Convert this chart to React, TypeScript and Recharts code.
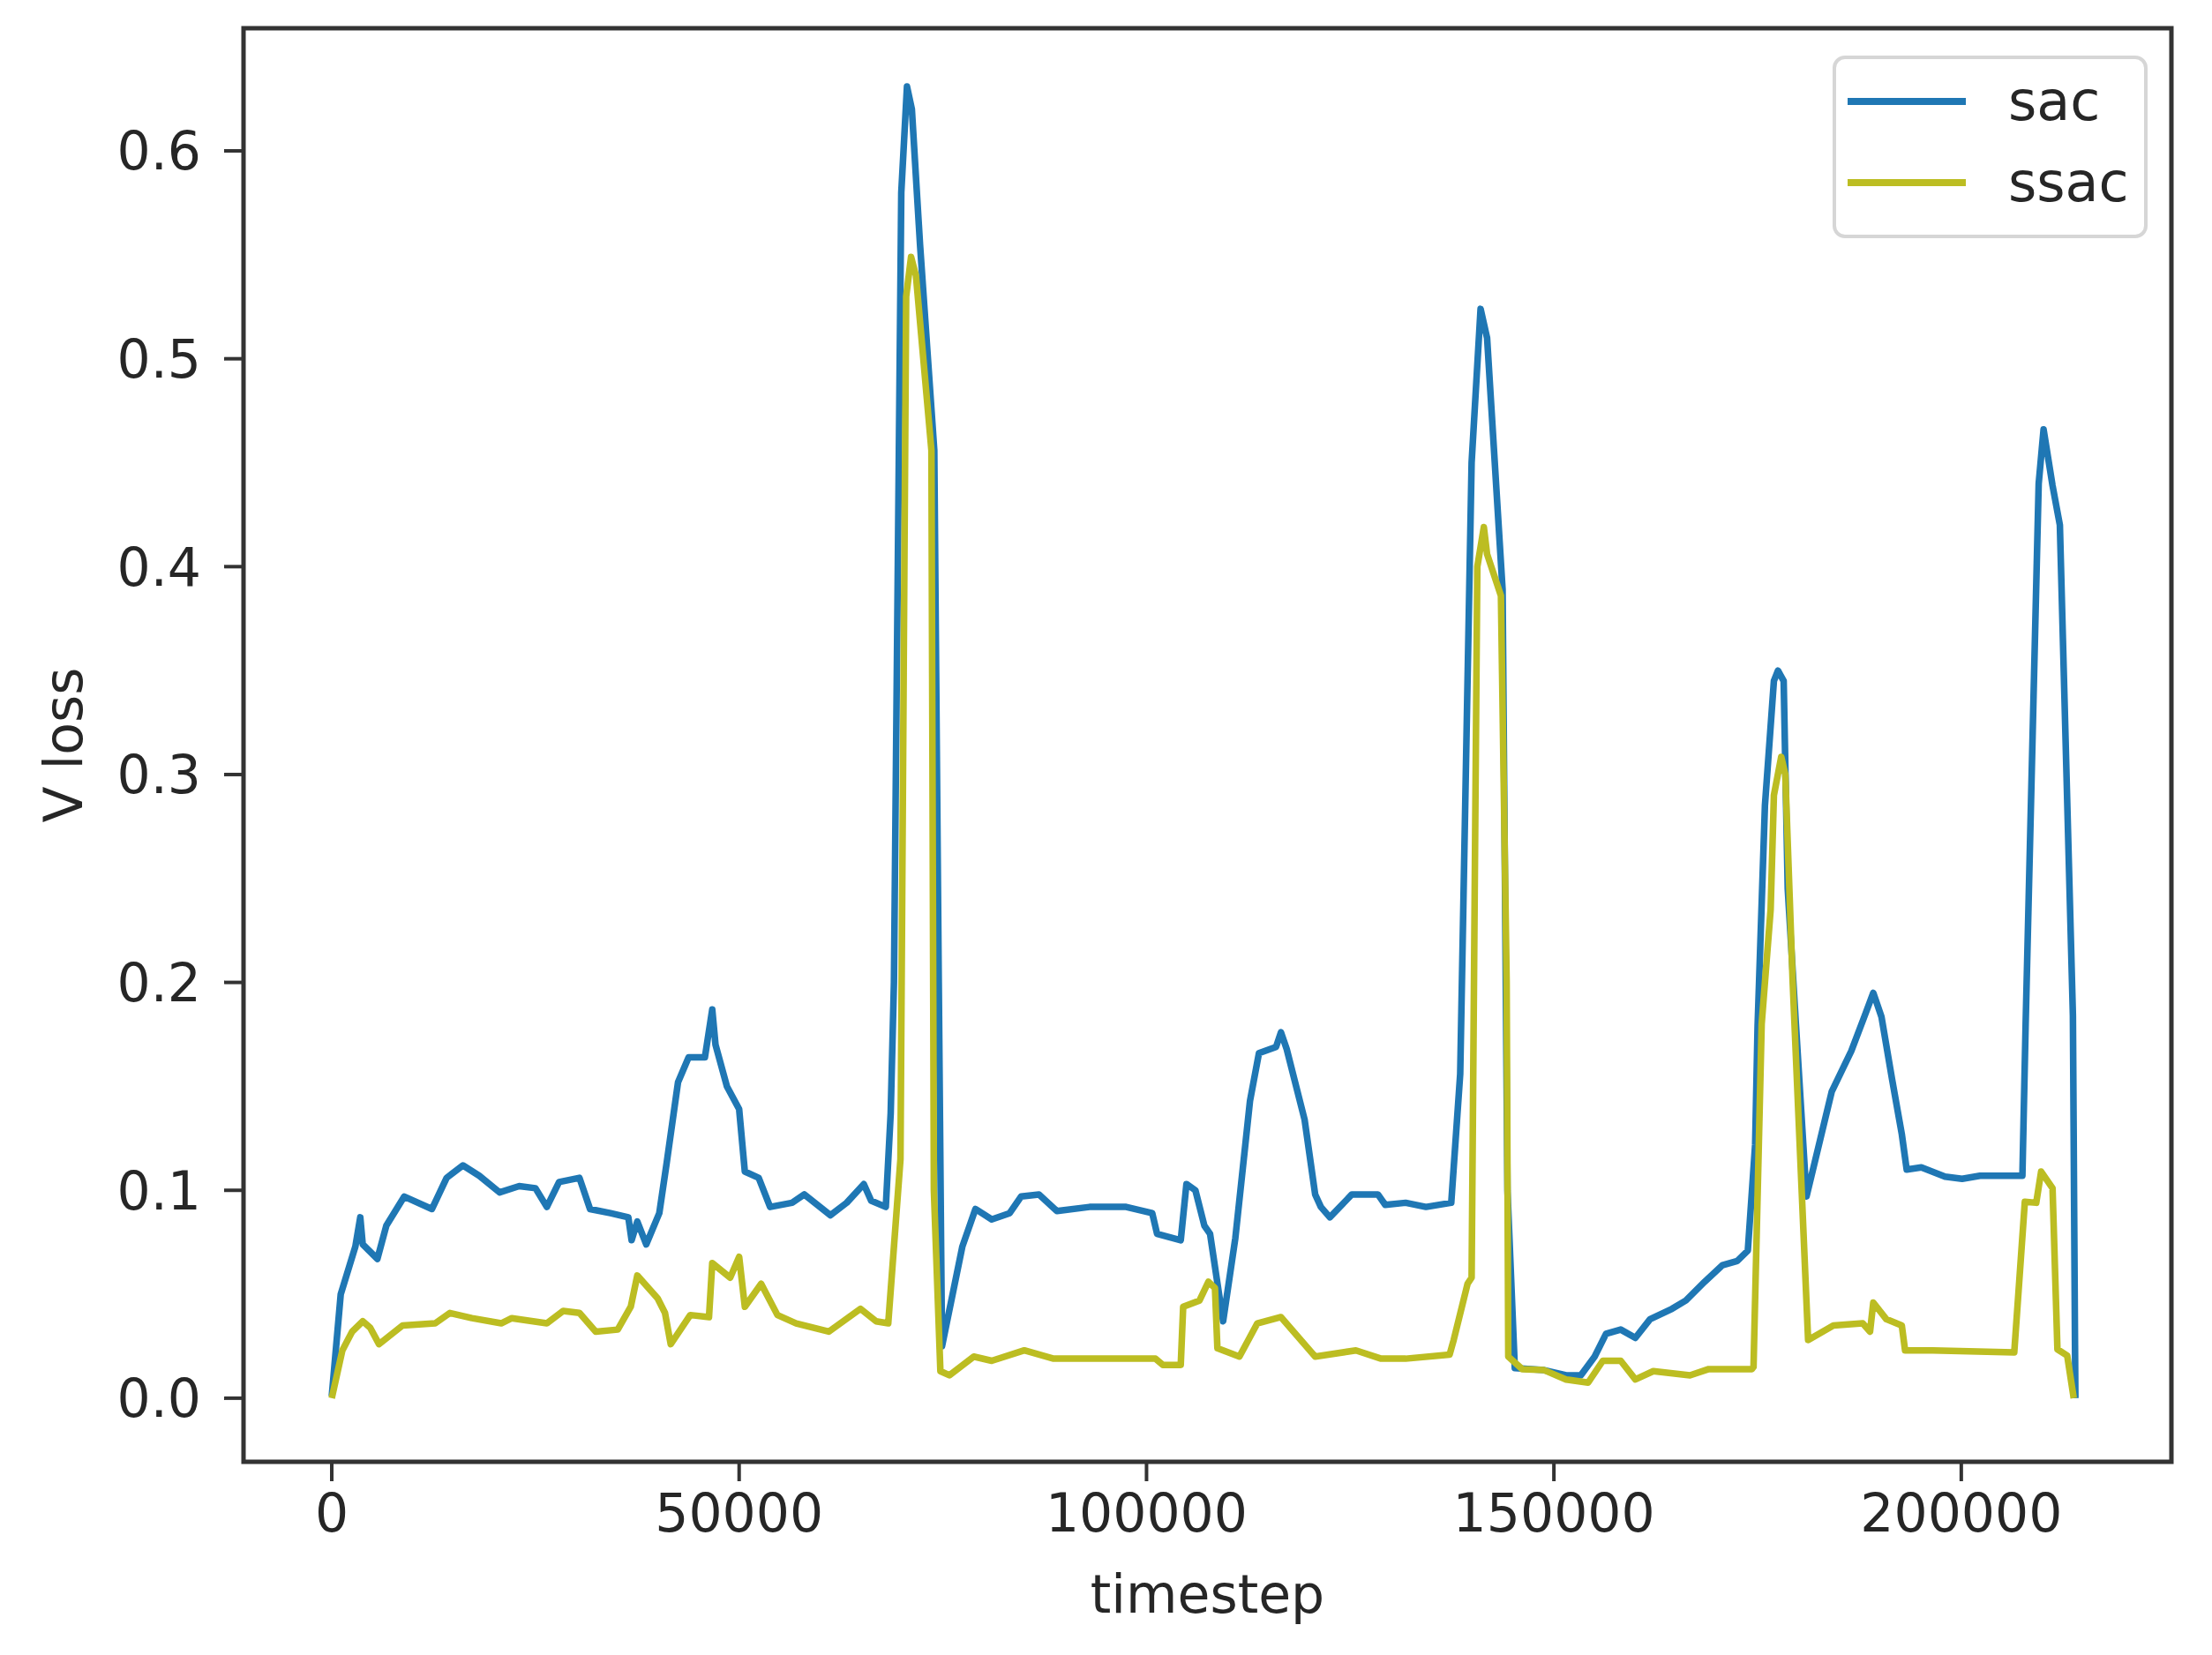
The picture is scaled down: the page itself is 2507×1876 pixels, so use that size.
import React from 'react';
import { LineChart, Line, XAxis, YAxis, ReferenceArea } from 'recharts';

// timesteps / V loss
const sacSteps = [
  0, 1100, 2900, 3500, 3800, 5600, 6700, 8900, 12300, 14100, 16100, 18100, 20600, 23000, 25000, 26400,
  27900, 30400, 31700, 34200, 36400, 36800, 37500, 38600, 40200, 41100, 42500, 43800, 45800, 46700, 47100,
  48500, 50000, 50700, 52400, 53800, 56500, 58000, 59600, 61200, 63200, 65300, 66200, 68000, 68600, 69000,
  69900, 70600, 71200, 72200, 73950, 74500, 74900, 77400, 79000, 81000, 83200, 84600, 86800, 89000, 93000,
  97500, 100700, 101300, 104200, 104900, 106000, 107100, 107800, 109400, 110900, 112700, 113800, 115900,
  116500, 117200, 119400, 120700, 121400, 122500, 125200, 128400, 129300, 131800, 134300, 137400, 138500,
  139900, 141000, 141800, 143700, 144300, 145200, 148800, 151500, 153300, 155000, 156400, 158200, 160000,
  161800, 164500, 166200, 168500, 170700, 172500, 173800, 174700, 175000, 175900, 177000, 177500, 178200,
  178700, 179700, 181000, 184100, 186500, 188100, 189200, 190200, 191500, 192700, 193300, 195100, 198000,
  200100, 202300, 207500, 207900, 209500, 210100, 211200, 212100, 213700, 214000,
];
const sacLoss = [
  0.001, 0.05, 0.073, 0.087, 0.074, 0.067, 0.083, 0.097, 0.091, 0.106, 0.112, 0.107, 0.099, 0.102, 0.101, 0.092,
  0.104, 0.106, 0.091, 0.089, 0.087, 0.076, 0.085, 0.074, 0.089, 0.113, 0.152, 0.164, 0.164, 0.187, 0.17,
  0.15, 0.139, 0.109, 0.106, 0.092, 0.094, 0.098, 0.093, 0.088, 0.094, 0.103, 0.095, 0.092, 0.137, 0.2,
  0.58, 0.631, 0.62, 0.555, 0.456, 0.2, 0.025, 0.073, 0.091, 0.086, 0.089, 0.097, 0.098, 0.09, 0.092,
  0.092, 0.089, 0.079, 0.076, 0.103, 0.1, 0.083, 0.079, 0.037, 0.077, 0.143, 0.166, 0.169,
  0.176, 0.168, 0.134, 0.098, 0.092, 0.087, 0.098, 0.098, 0.093, 0.094, 0.092, 0.094, 0.156,
  0.45, 0.524, 0.51, 0.389, 0.1, 0.0145, 0.0135, 0.011, 0.011, 0.02, 0.031, 0.033, 0.029,
  0.038, 0.043, 0.047, 0.056, 0.064, 0.066, 0.071, 0.122, 0.179, 0.285, 0.345, 0.35, 0.345,
  0.245, 0.18, 0.097, 0.1475, 0.167, 0.1835, 0.195, 0.1835, 0.1535, 0.127, 0.11, 0.111, 0.1066,
  0.1055, 0.107, 0.107, 0.18, 0.44, 0.466, 0.439, 0.42, 0.184, 0.0,
];

const ssacSteps = [
  0, 1300, 2500, 3800, 4700, 5800, 8700, 12700, 14500, 17200, 20800, 22100, 26400, 28400, 30400, 32400,
  35100, 36700, 37500, 40000, 40900, 41600, 44000, 46300, 46700, 48900, 50000, 50700, 52700, 54700, 57000,
  61000, 64900, 66800, 68300, 69800, 70500, 71100, 71700, 73600, 73900, 74700, 75800, 78800, 81000, 85000,
  88600, 101100, 102000, 104200, 104500, 106500, 107600, 108400, 108700, 111400, 113600, 116500, 120700,
  125700, 128800, 131800, 137200, 137700, 139400, 139900, 140600, 141400, 141800, 143500, 144200, 144400,
  146100, 148800, 151500, 154200, 156000, 158200, 160000, 162200, 166700, 169000, 174300, 174500, 175500,
  176600, 177000, 177900, 178400, 179300, 181200, 184300, 187900, 188800, 189200, 190800, 192700, 193100,
  196500, 206500, 207800, 209200, 209800, 211200, 211800, 213000, 213800,
];
const ssacLoss = [
  0.0, 0.023, 0.032, 0.037, 0.034, 0.026, 0.035, 0.036, 0.041, 0.0385, 0.036, 0.0385, 0.036, 0.042, 0.041, 0.032,
  0.033, 0.044, 0.059, 0.048, 0.041, 0.026, 0.04, 0.039, 0.065, 0.058, 0.068, 0.044, 0.055, 0.04, 0.036,
  0.032, 0.043, 0.037, 0.036, 0.115, 0.53, 0.549, 0.54, 0.456, 0.1, 0.013, 0.011, 0.02, 0.018, 0.023,
  0.019, 0.019, 0.016, 0.016, 0.044, 0.047, 0.056, 0.053, 0.024, 0.02, 0.036, 0.039, 0.02,
  0.023, 0.019, 0.019, 0.021, 0.028, 0.055, 0.058, 0.4, 0.419, 0.406, 0.386, 0.2, 0.02,
  0.014, 0.0135, 0.009, 0.0075, 0.018, 0.018, 0.009, 0.013, 0.011, 0.014, 0.014, 0.015, 0.18,
  0.235, 0.29, 0.3085, 0.3, 0.201, 0.028, 0.035, 0.036, 0.032, 0.046, 0.038, 0.035, 0.023,
  0.023, 0.022, 0.0945, 0.094, 0.109, 0.101, 0.0235, 0.0205, 0.0,
];

const xTicks = [0, 50000, 100000, 150000, 200000];
const yTicks = [0, 0.1, 0.2, 0.3, 0.4, 0.5, 0.6];

const X_DOMAIN: [number, number] = [-10830, 225790];
const Y_DOMAIN: [number, number] = [-0.0306, 0.659];

const COLORS = {
  sac: '#1f77b4',
  ssac: '#bcbd22',
  ink: '#262626',
  frame: '#333333',
};

const FONT = 'DejaVu Sans, sans-serif';

const sacData = sacSteps.map((t, i) => ({ t, v: sacLoss[i] }));
const ssacData = ssacSteps.map((t, i) => ({ t, v: ssacLoss[i] }));

const legendItems = [
  { name: 'sac', color: COLORS.sac },
  { name: 'ssac', color: COLORS.ssac },
];

function YLabel(props: any) {
  const vb = props.viewBox || {};
  const cx = vb.x + 72;
  const cy = vb.y + vb.height / 2;
  return (
    <text
      x={cx}
      y={cy}
      transform={`rotate(-90 ${cx} ${cy})`}
      textAnchor="middle"
      dominantBaseline="central"
      fontSize={60}
      fontFamily={FONT}
      fill={COLORS.ink}
    >
      V loss
    </text>
  );
}

export default function App() {
  const tickStyle = { fontSize: 60, fill: COLORS.ink, fontFamily: FONT };
  return (
    <div style={{ position: 'absolute', left: 0, top: 0, width: 2507, height: 1876, background: '#fff' }}>
      <LineChart width={2507} height={1876} data={sacData} margin={{ top: 32, right: 46, bottom: 0, left: 0 }}>
        <XAxis
          dataKey="t"
          type="number"
          domain={X_DOMAIN}
          ticks={xTicks}
          allowDataOverflow
          height={219}
          tickSize={22}
          tickMargin={14}
          tick={tickStyle}
          tickLine={{ stroke: COLORS.frame, strokeWidth: 4 }}
          axisLine={false}
          label={{ value: 'timestep', position: 'insideBottom', offset: 48, fontSize: 60, fill: COLORS.ink, fontFamily: FONT }}
        />
        <YAxis
          type="number"
          domain={Y_DOMAIN}
          ticks={yTicks}
          allowDataOverflow
          width={276}
          tickSize={22}
          tickMargin={26}
          tick={tickStyle}
          tickFormatter={(v: number) => v.toFixed(1)}
          tickLine={{ stroke: COLORS.frame, strokeWidth: 4 }}
          axisLine={false}
          label={<YLabel />}
        />
        <ReferenceArea
          x1={X_DOMAIN[0]}
          x2={X_DOMAIN[1]}
          y1={Y_DOMAIN[0]}
          y2={Y_DOMAIN[1]}
          fill="none"
          stroke={COLORS.frame}
          strokeWidth={5}
          ifOverflow="visible"
        />
        <Line data={sacData} dataKey="v" type="linear" stroke={COLORS.sac} strokeWidth={7.5} strokeLinejoin="round" dot={false} isAnimationActive={false} />
        <Line data={ssacData} dataKey="v" type="linear" stroke={COLORS.ssac} strokeWidth={7.5} strokeLinejoin="round" dot={false} isAnimationActive={false} />
      </LineChart>
      <div
        style={{
          position: 'absolute',
          left: 2077,
          top: 63,
          width: 357,
          height: 207,
          boxSizing: 'border-box',
          border: '4px solid #d6d6d6',
          borderRadius: 14,
          background: 'rgba(255,255,255,0.8)',
          fontFamily: FONT,
          fontSize: 62,
          color: COLORS.ink,
        }}
      >
        {legendItems.map((item, i) => (
          <div key={item.name} style={{ position: 'absolute', left: 13, top: 22 + i * 92, height: 52, display: 'flex', alignItems: 'center' }}>
            <div style={{ width: 134, height: 8, background: item.color }} />
            <span style={{ marginLeft: 48, lineHeight: '52px' }}>{item.name}</span>
          </div>
        ))}
      </div>
    </div>
  );
}
